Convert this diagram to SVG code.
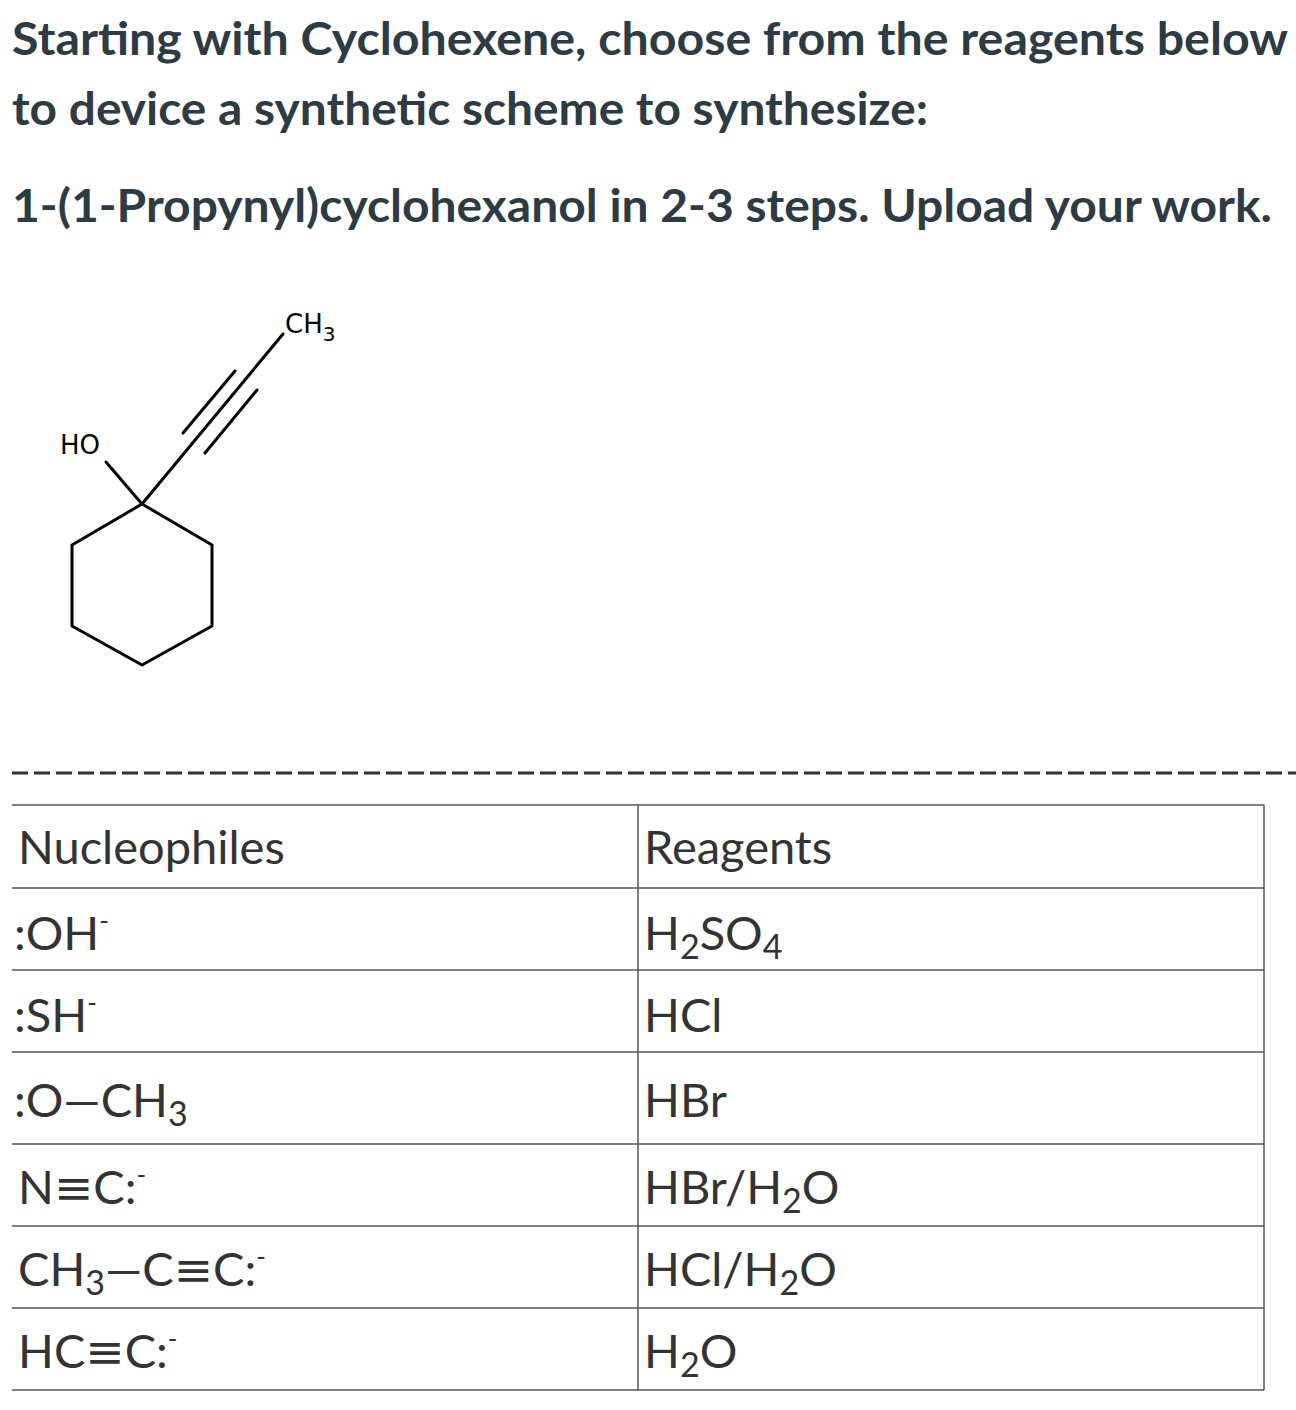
<svg xmlns="http://www.w3.org/2000/svg" width="1296" height="1410" viewBox="0 0 1296 1410">
<style>
.t{font-family:Lato,"Liberation Sans",sans-serif;font-weight:bold;font-size:46px;fill:#2d3b45}
.c{font-family:Lato,"Liberation Sans",sans-serif;font-size:47px;fill:#333}
.m{font-family:"DejaVu Sans","Liberation Sans",sans-serif;font-size:26px;fill:#000}
.e{font-family:"DejaVu Sans",sans-serif}
.b{stroke:#000;stroke-width:3;fill:none;stroke-linecap:round;stroke-linejoin:round}
.g{stroke:#555;stroke-width:1.5}
</style>
<rect width="1296" height="1410" fill="#fff"/>
<g id="title">
<text class="t" x="12" y="55" textLength="1276" lengthAdjust="spacingAndGlyphs">Starting with Cyclohexene,  choose from the reagents below</text>
<text class="t" x="12" y="125" textLength="916" lengthAdjust="spacingAndGlyphs">to device a synthetic scheme to synthesize:</text>
<text class="t" x="12" y="222" textLength="1260" lengthAdjust="spacingAndGlyphs">1-(1-Propynyl)cyclohexanol in 2-3 steps. Upload your work.</text>
</g>
<g id="molecule">
<polygon class="b" points="142,504 212,545 212,626 142,665 72,626 72,545"/>
<line class="b" x1="142" y1="504" x2="283" y2="334"/>
<line class="b" x1="183" y1="433" x2="235" y2="371"/>
<line class="b" x1="205" y1="453" x2="257" y2="390"/>
<line class="b" x1="106" y1="462" x2="142" y2="504"/>
<text class="m" x="60" y="454">HO</text>
<text class="m" x="285" y="333">CH<tspan font-size="20" dy="8">3</tspan></text>
</g>
<line x1="12" y1="773" x2="1296" y2="773" stroke="#333" stroke-width="3" stroke-dasharray="16,6"/>
<g id="table">
<line class="g" x1="12" y1="805" x2="1264" y2="805"/>
<line class="g" x1="12" y1="888" x2="1264" y2="888"/>
<line class="g" x1="12" y1="970" x2="1264" y2="970"/>
<line class="g" x1="12" y1="1052" x2="1264" y2="1052"/>
<line class="g" x1="12" y1="1144" x2="1264" y2="1144"/>
<line class="g" x1="12" y1="1226" x2="1264" y2="1226"/>
<line class="g" x1="12" y1="1308" x2="1264" y2="1308"/>
<line class="g" x1="12" y1="1390" x2="1264" y2="1390"/>
<line class="g" x1="638" y1="805" x2="638" y2="1390"/>
<line class="g" x1="1264" y1="805" x2="1264" y2="1390"/>
<text class="c" x="18" y="864">Nucleophiles</text>
<text class="c" x="644" y="864">Reagents</text>
<text class="c" x="14" y="950">:OH<tspan font-size="26" dy="-20">-</tspan></text>
<text class="c" x="644" y="950">H<tspan font-size="34" dy="9">2</tspan><tspan dy="-9">SO</tspan><tspan font-size="34" dy="9">4</tspan></text>
<text class="c" x="14" y="1032">:SH<tspan font-size="26" dy="-20">-</tspan></text>
<text class="c" x="644" y="1032">HCl</text>
<text class="c" x="14" y="1117">:O—CH<tspan font-size="34" dy="9">3</tspan></text>
<text class="c" x="644" y="1117">HBr</text>
<text class="c" x="18" y="1204">N<tspan class="e">≡</tspan>C:<tspan font-size="26" dy="-20">-</tspan></text>
<text class="c" x="644" y="1204">HBr/H<tspan font-size="34" dy="9">2</tspan><tspan dy="-9">O</tspan></text>
<text class="c" x="18" y="1286">CH<tspan font-size="34" dy="9">3</tspan><tspan dy="-9">—C</tspan><tspan class="e">≡</tspan>C:<tspan font-size="26" dy="-20">-</tspan></text>
<text class="c" x="644" y="1286">HCl/H<tspan font-size="34" dy="9">2</tspan><tspan dy="-9">O</tspan></text>
<text class="c" x="18" y="1368">HC<tspan class="e">≡</tspan>C:<tspan font-size="26" dy="-20">-</tspan></text>
<text class="c" x="644" y="1368">H<tspan font-size="34" dy="9">2</tspan><tspan dy="-9">O</tspan></text>
</g>
</svg>
